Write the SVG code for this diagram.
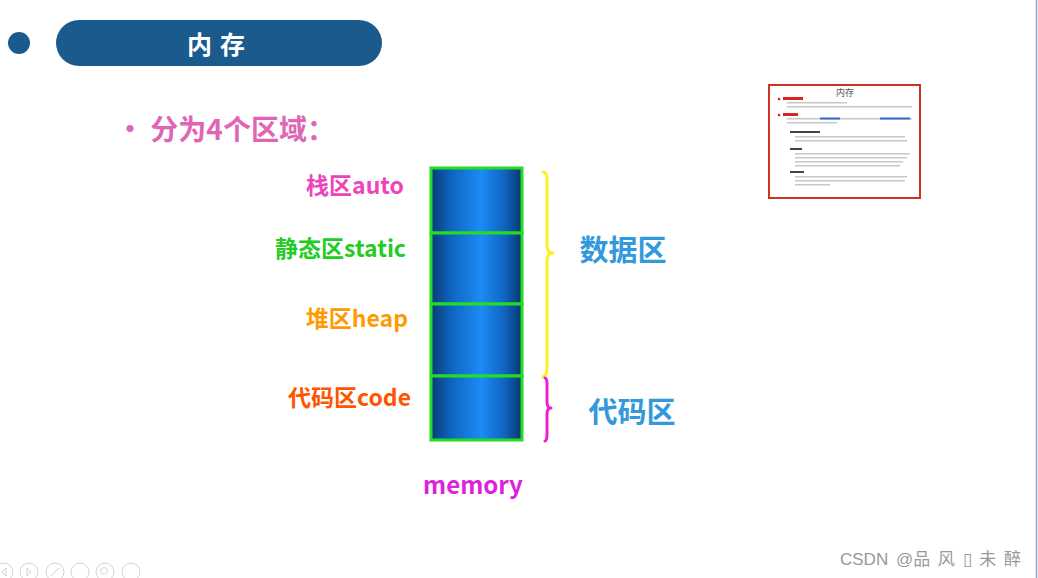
<svg xmlns="http://www.w3.org/2000/svg" width="1038" height="578" viewBox="0 0 1038 578">
<style>
.cjk{font-family:"Noto Sans CJK SC","Noto Sans",sans-serif;font-weight:bold}
.lbl{font-size:23px;text-anchor:end}
.big{font-size:28px}
.blk{fill:url(#bg);stroke:#22dd22;stroke-width:3}
.brace{fill:none;stroke-width:3;stroke-linecap:round;stroke-linejoin:round}
.ctl{fill:none;stroke:#d4d4d4;stroke-width:1}
.tl{fill:#c8c8c8}
.tr{fill:#dd2222}
</style>
<defs>
<linearGradient id="bg" x1="0" y1="0" x2="1" y2="0">
<stop offset="0" stop-color="#083a75"/>
<stop offset="0.22" stop-color="#1064c0"/>
<stop offset="0.55" stop-color="#1a8cf5"/>
<stop offset="0.82" stop-color="#1062bd"/>
<stop offset="1" stop-color="#07366c"/>
</linearGradient>
</defs>
<rect width="1038" height="578" fill="#ffffff"/>
<line x1="1036.5" y1="0" x2="1036.5" y2="578" stroke="#8fa3c9" stroke-width="1.5"/>

<g id="header">
<circle cx="19" cy="43" r="11" fill="#1a5b8d"/>
<rect x="56" y="20" width="326" height="46" rx="23" fill="#1a5a8c"/>
<text x="220" y="54" class="cjk" font-size="25" fill="#ffffff" text-anchor="middle" letter-spacing="8">内存</text>
</g>

<g id="subtitle">
<text x="116" y="140" class="cjk big" fill="#e066b4">· 分为4个区域：</text>
</g>

<g id="memory">
<rect id="seg-auto" class="blk" x="431" y="168" width="91" height="65"/>
<rect id="seg-static" class="blk" x="431" y="233" width="91" height="71"/>
<rect id="seg-heap" class="blk" x="431" y="304" width="91" height="72"/>
<rect id="seg-code" class="blk" x="431" y="376" width="91" height="64"/>
<text x="473" y="494" class="cjk" font-size="24" fill="#dd22dd" text-anchor="middle">memory</text>
</g>

<g id="labels">
<text id="lbl-auto" x="404" y="194" class="cjk lbl" fill="#ee44bb">栈区auto</text>
<text id="lbl-static" x="406" y="257" class="cjk lbl" fill="#22cc22">静态区static</text>
<text id="lbl-heap" x="408" y="327" class="cjk lbl" fill="#ff9a00">堆区heap</text>
<text id="lbl-code" x="411" y="406" class="cjk lbl" fill="#ff5500">代码区code</text>
</g>

<g id="connectors">
<path class="brace" stroke="#ffee22" d="M543 172 Q547 172 547 180 L547 245 Q547 253 553 253 Q547 253 547 261 L547 368 Q547 376 543 377"/>
<path class="brace" stroke="#ee22cc" d="M545 378 Q547 378 547 384 L547 402 Q547 408 551 408 Q547 408 547 414 L547 434 Q547 441 545 441"/>
</g>

<g id="region-data">
<text x="623" y="261" class="cjk" font-size="29" fill="#3399dd" text-anchor="middle">数据区</text>
</g>
<g id="region-code">
<text x="632" y="423" class="cjk" font-size="29" fill="#3399dd" text-anchor="middle">代码区</text>
</g>

<g id="thumbnail">
<rect x="769" y="85" width="151" height="113" fill="#ffffff" stroke="#cc3322" stroke-width="2"/>
<text x="845" y="96" font-family="'Noto Sans CJK SC',sans-serif" font-size="9" fill="#555" text-anchor="middle">内存</text>
<circle cx="779" cy="99" r="1.3" fill="#dd2222"/><rect class="tr" x="783" y="97" width="20" height="3"/>
<rect class="tl" x="787" y="102" width="60" height="1.5"/>
<rect class="tl" x="787" y="106" width="125" height="1.5"/>
<circle cx="779" cy="115" r="1.3" fill="#dd2222"/><rect class="tr" x="783" y="113" width="15" height="3"/>
<rect class="tl" x="787" y="118" width="125" height="1.5"/><rect x="820" y="117.5" width="20" height="2" fill="#3366cc"/><rect x="880" y="117.5" width="30" height="2" fill="#3366cc"/>
<rect class="tl" x="787" y="122" width="50" height="1.5"/>
<rect x="790" y="131" width="30" height="2" fill="#444"/>
<rect class="tl" x="795" y="136" width="110" height="1.5"/>
<rect class="tl" x="795" y="140" width="112" height="1.5"/>
<rect x="790" y="148" width="12" height="2" fill="#444"/>
<rect class="tl" x="795" y="153" width="115" height="1.5"/>
<rect class="tl" x="795" y="157" width="112" height="1.5"/>
<rect class="tl" x="795" y="161" width="108" height="1.5"/>
<rect class="tl" x="795" y="165" width="105" height="1.5"/>
<rect x="790" y="171" width="14" height="2" fill="#444"/>
<rect class="tl" x="795" y="176" width="112" height="1.5"/>
<rect class="tl" x="795" y="180" width="110" height="1.5"/>
<rect class="tl" x="795" y="184" width="35" height="1.5"/>
</g>

<g id="controls">
<circle class="ctl" cx="4" cy="572" r="9"/>
<circle class="ctl" cx="29" cy="572" r="9"/>
<circle class="ctl" cx="55" cy="572" r="9"/>
<circle class="ctl" cx="80" cy="572" r="9"/>
<circle class="ctl" cx="105" cy="572" r="9"/>
<circle class="ctl" cx="131" cy="572" r="9"/>
<path class="ctl" d="M6 568 L2 572 L6 576 Z M27 568 L31 572 L27 576 Z M51 576 L59 568"/>
<circle class="ctl" cx="104" cy="571" r="3.5"/>
</g>

<g id="watermark">
<text x="840" y="565" font-family="'Liberation Sans','Noto Sans CJK SC',sans-serif" font-size="17" fill="#999999" word-spacing="3">CSDN @品 风 ▯ 未 醉</text>
</g>
</svg>
